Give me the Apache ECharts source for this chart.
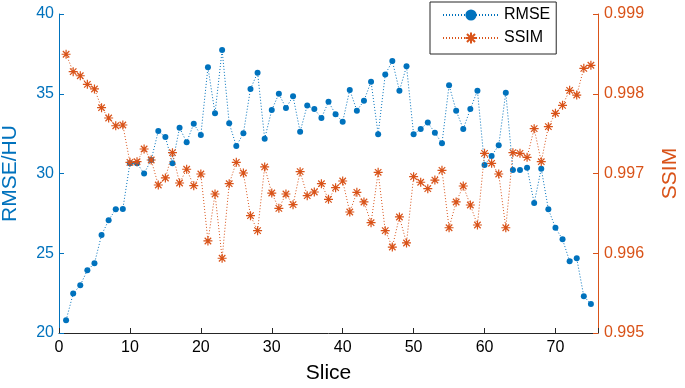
<!DOCTYPE html>
<html>
<head>
<meta charset="utf-8">
<script src="https://cdn.jsdelivr.net/npm/echarts@6/dist/echarts.min.js"></script>
<style>html,body{margin:0;padding:0;background:#fff;}#c{width:685px;height:388px;}</style>
</head>
<body>
<div id="c"></div>
<script>
const slices = [1,2,3,4,5,6,7,8,9,10,11,12,13,14,15,16,17,18,19,20,21,22,23,24,25,26,27,28,29,30,31,32,33,34,35,36,37,38,39,40,41,42,43,44,45,46,47,48,49,50,51,52,53,54,55,56,57,58,59,60,61,62,63,64,65,66,67,68,69,70,71,72,73,74,75];
const rmse = [20.8,22.47,23.0,23.93,24.37,26.14,27.07,27.76,27.78,30.64,30.64,30.0,30.85,32.66,32.29,30.64,32.87,31.96,33.12,32.41,36.66,33.77,37.74,33.15,31.72,32.52,35.30,36.32,32.18,33.98,35.0,34.1,34.84,32.62,34.27,34.04,33.48,34.5,33.71,33.25,35.24,33.94,34.56,35.76,32.46,36.2,37.05,35.19,36.72,32.46,32.79,33.19,32.56,31.89,35.53,33.94,32.79,34.04,35.19,30.53,31.1,31.77,35.07,30.22,30.22,30.36,28.15,30.3,27.76,26.6,25.87,24.5,24.68,22.3,21.82];
const ssim = [0.998495,0.998277,0.998226,0.998118,0.998060,0.997825,0.997696,0.997599,0.997608,0.997140,0.997148,0.997307,0.997169,0.996856,0.996944,0.997261,0.996881,0.997053,0.996847,0.996994,0.996154,0.996743,0.995937,0.996872,0.997140,0.997006,0.996471,0.996283,0.997082,0.996755,0.996563,0.996743,0.996609,0.997023,0.996722,0.996768,0.996872,0.996676,0.996822,0.996906,0.996517,0.996764,0.996643,0.996383,0.997015,0.996283,0.996078,0.996455,0.996129,0.996960,0.996890,0.996810,0.996918,0.997040,0.996320,0.996643,0.996843,0.996605,0.996354,0.997253,0.997128,0.996994,0.996320,0.997261,0.997253,0.997203,0.997562,0.997148,0.997587,0.997755,0.997855,0.998043,0.997984,0.998319,0.998357];
const seriesNames = ['RMSE','SSIM'];
const xName = 'Slice';
const leftName = 'RMSE/HU';
const rightName = 'SSIM';

const BLUE = '#0072BD', ORANGE = '#D95319', DARK = '#262626';
const FONT = 'Liberation Sans, Arial, Helvetica, sans-serif';
const star = 'path://M0,-5L0,5M-5,0L5,0M-3.6,-3.6L3.6,3.6M-3.6,3.6L3.6,-3.6';

const chart = echarts.init(document.getElementById('c'), null, {renderer:'canvas'});
chart.setOption({
  animation: false,
  backgroundColor: '#fff',
  grid: {left: 59, right: 87, top: 14, bottom: 55, containLabel: false, outerBoundsMode: 'none'},
  legend: {
    left: 430, top: 2, orient: 'vertical',
    backgroundColor: '#fff', borderColor: DARK, borderWidth: 1,
    padding: [5, 6, 8, 12], itemGap: 7, itemWidth: 56, itemHeight: 14,
    textStyle: {fontFamily: FONT, fontSize: 16, color: '#000'},
    data: seriesNames
  },
  xAxis: {
    type: 'value', min: 0, max: 76, interval: 10,
    name: xName, nameLocation: 'middle', nameGap: 30,
    nameTextStyle: {fontFamily: FONT, fontSize: 21, color: '#000'},
    axisLine: {lineStyle: {color: DARK, width: 1}},
    axisTick: {inside: true, length: 5, lineStyle: {color: DARK}},
    axisLabel: {fontFamily: FONT, fontSize: 16, color: '#000', margin: 7,
      formatter: v => (v % 10 === 0 && v <= 70) ? String(v) : ''},
    splitLine: {show: false}
  },
  yAxis: [{
    type: 'value', position: 'left', min: 20, max: 40, interval: 5,
    name: leftName, nameLocation: 'middle', nameGap: 38, nameRotate: 90,
    nameTextStyle: {fontFamily: FONT, fontSize: 21, color: BLUE},
    axisLine: {show: true, lineStyle: {color: BLUE, width: 1}},
    axisTick: {show: true, inside: true, length: 5, lineStyle: {color: BLUE}},
    axisLabel: {fontFamily: FONT, fontSize: 16, color: BLUE, margin: 5},
    splitLine: {show: false}
  },{
    type: 'value', position: 'right', min: 0.995, max: 0.999, interval: 0.001,
    name: rightName, nameLocation: 'middle', nameGap: 62, nameRotate: 90,
    nameTextStyle: {fontFamily: FONT, fontSize: 21, color: ORANGE},
    axisLine: {show: true, lineStyle: {color: ORANGE, width: 1}},
    axisTick: {show: true, inside: true, length: 5, lineStyle: {color: ORANGE}},
    axisLabel: {fontFamily: FONT, fontSize: 16, color: ORANGE, margin: 6,
      formatter: v => v.toFixed(3)},
    splitLine: {show: false}
  }],
  series: [{
    name: seriesNames[0], type: 'line', yAxisIndex: 0,
    data: slices.map((s, i) => [s, rmse[i]]),
    symbol: 'circle', symbolSize: 6,
    lineStyle: {color: BLUE, width: 1, type: [1, 2]},
    itemStyle: {color: BLUE},
    z: 2
  },{
    name: seriesNames[1], type: 'line', yAxisIndex: 1,
    data: slices.map((s, i) => [s, ssim[i]]),
    symbol: star, symbolSize: 9,
    lineStyle: {color: ORANGE, width: 1, type: [1, 2]},
    itemStyle: {color: ORANGE, borderColor: ORANGE, borderWidth: 1.2},
    z: 3
  }]
});
</script>
</body>
</html>
